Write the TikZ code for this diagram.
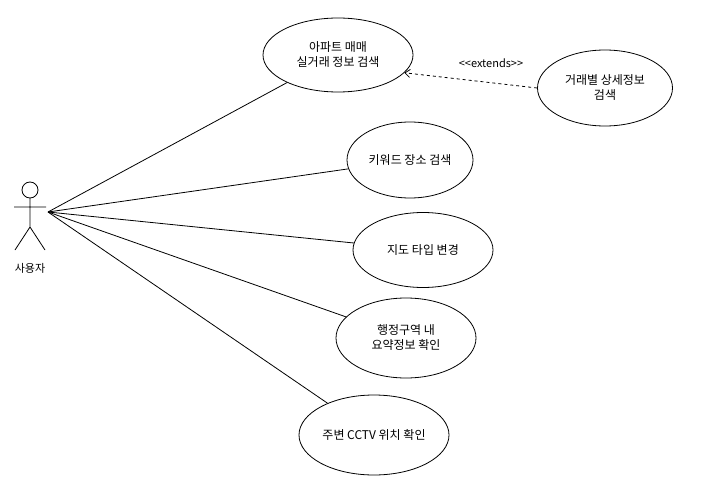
\documentclass[tikz,border=0pt]{standalone}
\usepackage{fontspec}
\setmainfont{Noto Sans CJK KR}
\usetikzlibrary{arrows.meta,shapes.geometric}
\begin{document}
\begin{tikzpicture}[x=1pt,y=-1pt,
 uc/.style={draw,thick,ellipse,inner sep=0pt,align=center,font=\fontsize{12}{15}\selectfont},
 link/.style={thick}]
\useasboundingbox (0,0) rectangle (722,492);
\node[uc,minimum width=150,minimum height=74] (a) at (338,55) {아파트 매매\\실거래 정보 검색};
\node[uc,minimum width=126,minimum height=76] (b) at (410,160) {키워드 장소 검색};
\node[uc,minimum width=140,minimum height=75] (c) at (423,250) {지도 타입 변경};
\node[uc,minimum width=140,minimum height=80] (d) at (406,338) {행정구역 내\\요약정보 확인};
\node[uc,minimum width=150,minimum height=80] (e) at (374,435) {주변 CCTV 위치 확인};
\node[uc,minimum width=135,minimum height=76] (f) at (605,88) {거래별 상세정보\\검색};
% actor
\draw[thick] (30,190) circle (8);
\draw[thick] (30,198) -- (30,227) (14,207) -- (46,207) (30,227) -- (15,250) (30,227) -- (45,250);
\node[font=\fontsize{11}{13}\selectfont] (u) at (30,268) {사용자};
\coordinate (h) at (48,212);
\foreach \n in {a,b,c,d,e} \draw[link] (h) -- (\n);
\draw[thick,dashed,-{Straight Barb[length=5pt,width=8pt]}] (f.west) -- (a.-15);
\node[font=\fontsize{11}{13}\selectfont] (x) at (491,63) {{<}{<}extends{>}{>}};
\end{tikzpicture}
\end{document}
